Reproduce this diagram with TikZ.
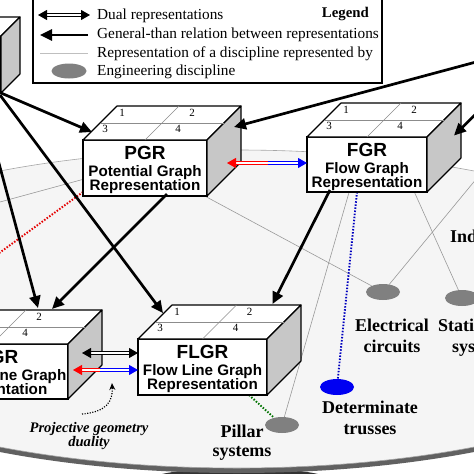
\documentclass[tikz,border=0pt]{standalone}
\usepackage{fontspec}
\setmainfont{Liberation Serif}
\newfontfamily\boxfont{Liberation Sans}
\usetikzlibrary{arrows.meta,calc,shapes.geometric}
\pgfdeclarelayer{bg}
\pgfdeclarelayer{lines}
\pgfsetlayers{bg,lines,main}
\tikzset{
  frontface/.style={draw, fill=white, line width=1.1pt, inner sep=0pt, outer sep=0pt},
  topface/.style={draw, fill=white, line width=1.1pt, line join=round},
  sideface/.style={draw, fill=black!22, line width=1.1pt, line join=round},
  divider/.style={draw=black!45, line width=0.5pt},
  num/.style={font=\fontsize{11}{11}\selectfont, inner sep=0pt},
  acr/.style={anchor=base, inner sep=0pt, font=\boxfont\bfseries\fontsize{19}{19}\selectfont},
  sub/.style={anchor=base, inner sep=0pt, font=\boxfont\bfseries\fontsize{15.2}{15.2}\selectfont},
  disc/.style={ellipse, fill=black!50, minimum width=34pt, minimum height=16pt, inner sep=0pt},
  disclabel/.style={anchor=base, inner sep=0pt, font=\bfseries\fontsize{18}{18}\selectfont},
  legtext/.style={anchor=base west, inner sep=0pt, font=\fontsize{15.3}{15.3}\selectfont},
  repline/.style={draw=black!40, line width=0.6pt},
  genarrow/.style={line width=2.7pt, -{Triangle[length=12pt,width=11pt]}},
  dual/.style={line width=1pt, double=white, double distance=1.3pt},
  dtip/.style={-{Triangle[length=9pt,width=10pt]}},
  dotline/.style={line width=1.9pt, dash pattern=on 1.5pt off 1.6pt},
}
\newcommand{\gbox}[8]{%
  \node[frontface, minimum width=#4pt, minimum height=#5pt] (#1) at ({#2+#4/2},{#3+#5/2}) {};
  \filldraw[topface] (#1.north west) -- ++(34,-34) -- ++(#4,0) -- (#1.north east) -- cycle;
  \filldraw[sideface] (#1.north east) -- ++(34,-34) -- ++(0,#5) -- (#1.south east) -- cycle;
  \draw[divider] ($(#1.north west)+(17,-17)$) -- ++(#4,0);
  \draw[divider] (#1.north) -- ++(34,-34);
  \node[num] at ($(#1.north west)+(39,-27)$) {1};
  \node[num] at ($(#1.north)+(47,-27)$) {2};
  \node[num] at ($(#1.north west)+(22,-11)$) {3};
  \node[num] at ($(#1.north)+(33,-11)$) {4};
  \node[acr] at ($(#1.north)+(0,19)$) {#6};
  \node[sub] at ($(#1.north)+(0,36)$) {#7};
  \node[sub] at ($(#1.north)+(0,50)$) {#8};
}
\begin{document}
\begin{tikzpicture}[x=1pt,y=-1pt]
\useasboundingbox (0,0) rectangle (474,474);
\clip (0,0) rectangle (474,474);
% disc
\begin{pgfonlayer}{bg}
  \fill[white] (0,0) rectangle (474,474);
  \fill[black!80] (240,480) ellipse [x radius=90pt, y radius=12pt];
  \fill[black!62] (237,314) ellipse [x radius=477pt, y radius=159pt];
  \filldraw[fill=black!4, draw=black!35, line width=0.6pt] (237,309) ellipse [x radius=477pt, y radius=159pt];
\end{pgfonlayer}
% disciplines
\node[disc] (elec) at (383,292) {};
\node[disc] (stat) at (462,298) {};
\node[disc, fill=blue!95!black] (truss) at (337,387) {};
\node[disc] (pillar) at (282,425) {};
\node[disclabel] at (392,331) {Electrical};
\node[disclabel] at (392,352) {circuits};
\node[disclabel, anchor=base west] at (438,331) {Statics};
\node[disclabel, anchor=base west] at (452,352) {systems};
\node[disclabel] at (370,413) {Determinate};
\node[disclabel] at (370,434) {trusses};
\node[disclabel] at (242,437) {Pillar};
\node[disclabel] at (242,456) {systems};
\node[disclabel, anchor=base west] at (450,242) {Indeterminate};
% top-left box (cut off)
\node[frontface, minimum width=120pt, minimum height=57pt] (tl) at (-59,64.5) {};
\filldraw[topface] (tl.north west) -- ++(19,-19) -- ++(120,0) -- (tl.north east) -- cycle;
\filldraw[sideface] (tl.north east) -- ++(19,-19) -- ++(0,57) -- (tl.south east) -- cycle;
% boxes
\gbox{plgr}{-84}{344}{152}{55}{PLGR}{Potential Line Graph}{Representation}
\gbox{pgr}{83}{140}{124}{56}{PGR}{Potential Graph}{Representation}
\gbox{fgr}{307}{137}{120}{55}{FGR}{Flow Graph}{Representation}
\gbox{flgr}{138}{339}{129}{56}{FLGR}{Flow Line Graph}{Representation}
% representation lines
\coordinate (offL) at (0,202);
\coordinate (offR) at (482,172);
\coordinate (offRed) at (-20,267);
\begin{pgfonlayer}{lines}
  \draw[repline] (offL) -- ($(pgr.south west)+(5,-18)$);
  \draw[repline] ($(pgr.south east)+(-6,-2)$) -- (elec);
  \draw[repline] ($(fgr.south)+(-17,-3)$) -- (pillar);
  \draw[repline] ($(fgr.south east)+(-14,-3)$) -- (stat);
  \draw[repline] (offR) -- (elec);
  \draw[dotline, red!90!black] ($(pgr.south west)+(0,-4)$) -- (offRed);
  \draw[dotline, blue!75!black] ($(fgr.south)+(-10,0)$) -- (truss);
  \draw[dotline, green!45!black] ($(flgr.south east)+(-18,0)$) -- (pillar);
\end{pgfonlayer}
% general-than arrows
\coordinate (a6s) at (476,62);
\coordinate (a7s) at (482,108);
\draw[genarrow] (tl.south east) -- ($(pgr.north west)+(9,-8)$);
\draw[genarrow] ($(tl.south east)+(-1,2)$) -- ($(flgr.north west)+(25,-26)$);
\draw[genarrow] ($(tl.south east)+(-21,0)$) -- ($(plgr.north)+(46,-36)$);
\draw[genarrow] ($(pgr.south)+(22,-2)$) -- ($(plgr.north)+(60,-35)$);
\draw[genarrow] ($(fgr.south)+(-37,-2)$) -- ($(flgr.north)+(70,-35)$);
\draw[genarrow] (a6s) -- ($(pgr.east)+(27,-41)$);
\draw[genarrow] (a7s) -- ($(fgr.east)+(27,-29)$);
% dual arrows
\coordinate (sp1) at ($(pgr.east)+(61,-5)$);
\draw[dual, red, dtip] (sp1) -- ($(pgr.east)+(20,-5)$);
\draw[dual, blue, dtip] (sp1) -- ($(fgr.west)+(0,-1.5)$);
\draw[dual, black, {Triangle[length=9pt,width=10pt]}-{Triangle[length=9pt,width=10pt]}] ($(plgr.east)+(14,-18.5)$) -- ($(flgr.west)+(0,-14)$);
\coordinate (sp2) at ($(plgr.east)+(32,-1.5)$);
\draw[dual, red, dtip] (sp2) -- ($(plgr.east)+(5,-1.5)$);
\draw[dual, blue, dtip] (sp2) -- ($(flgr.west)+(0,3)$);
% projective geometry duality
\coordinate (pgs) at (82,414);
\coordinate (pge) at (112,383);
\draw[line width=1.2pt, dash pattern=on 1.1pt off 1.5pt, -{Stealth[length=7pt,width=6pt]}] (pgs) .. controls (106,412) and (113,402) .. (pge);
\node[anchor=base, inner sep=0pt, font=\bfseries\itshape\fontsize{14.6}{14.6}\selectfont] (pgt1) at (89,432) {Projective geometry};
\node[anchor=base, inner sep=0pt, font=\bfseries\itshape\fontsize{14.6}{14.6}\selectfont] (pgt2) at (89,446) {duality};
% legend
\node[draw, line width=1.8pt, fill=white, minimum width=349pt, minimum height=84pt, inner sep=0pt, outer sep=0pt] (legend) at (207.5,41) {};
\coordinate (l1a) at (38,15); \coordinate (l1b) at (90,15);
\draw[dual, black, {Triangle[length=9pt,width=10pt]}-{Triangle[length=9pt,width=10pt]}] (l1a) -- (l1b);
\coordinate (l2a) at (88,35); \coordinate (l2b) at (40,35);
\draw[genarrow] (l2a) -- (l2b);
\coordinate (l3a) at (40,53); \coordinate (l3b) at (88,53);
\draw[draw=black!25, line width=1pt] (l3a) -- (l3b);
\node[ellipse, fill=black!50, minimum width=35pt, minimum height=15pt, inner sep=0pt] (l4) at (69,71) {};
\node[legtext] (t1) at (97,19) {Dual representations};
\node[legtext] (t2) at (97,38) {General-than relation between representations};
\node[legtext] (t3) at (97,57) {Representation of a discipline represented by};
\node[legtext] (t4) at (97,75) {Engineering discipline};
\node[anchor=base east, inner sep=0pt, font=\bfseries\fontsize{14.8}{14.8}\selectfont] (lg) at (369,17) {Legend};
\end{tikzpicture}
\end{document}
